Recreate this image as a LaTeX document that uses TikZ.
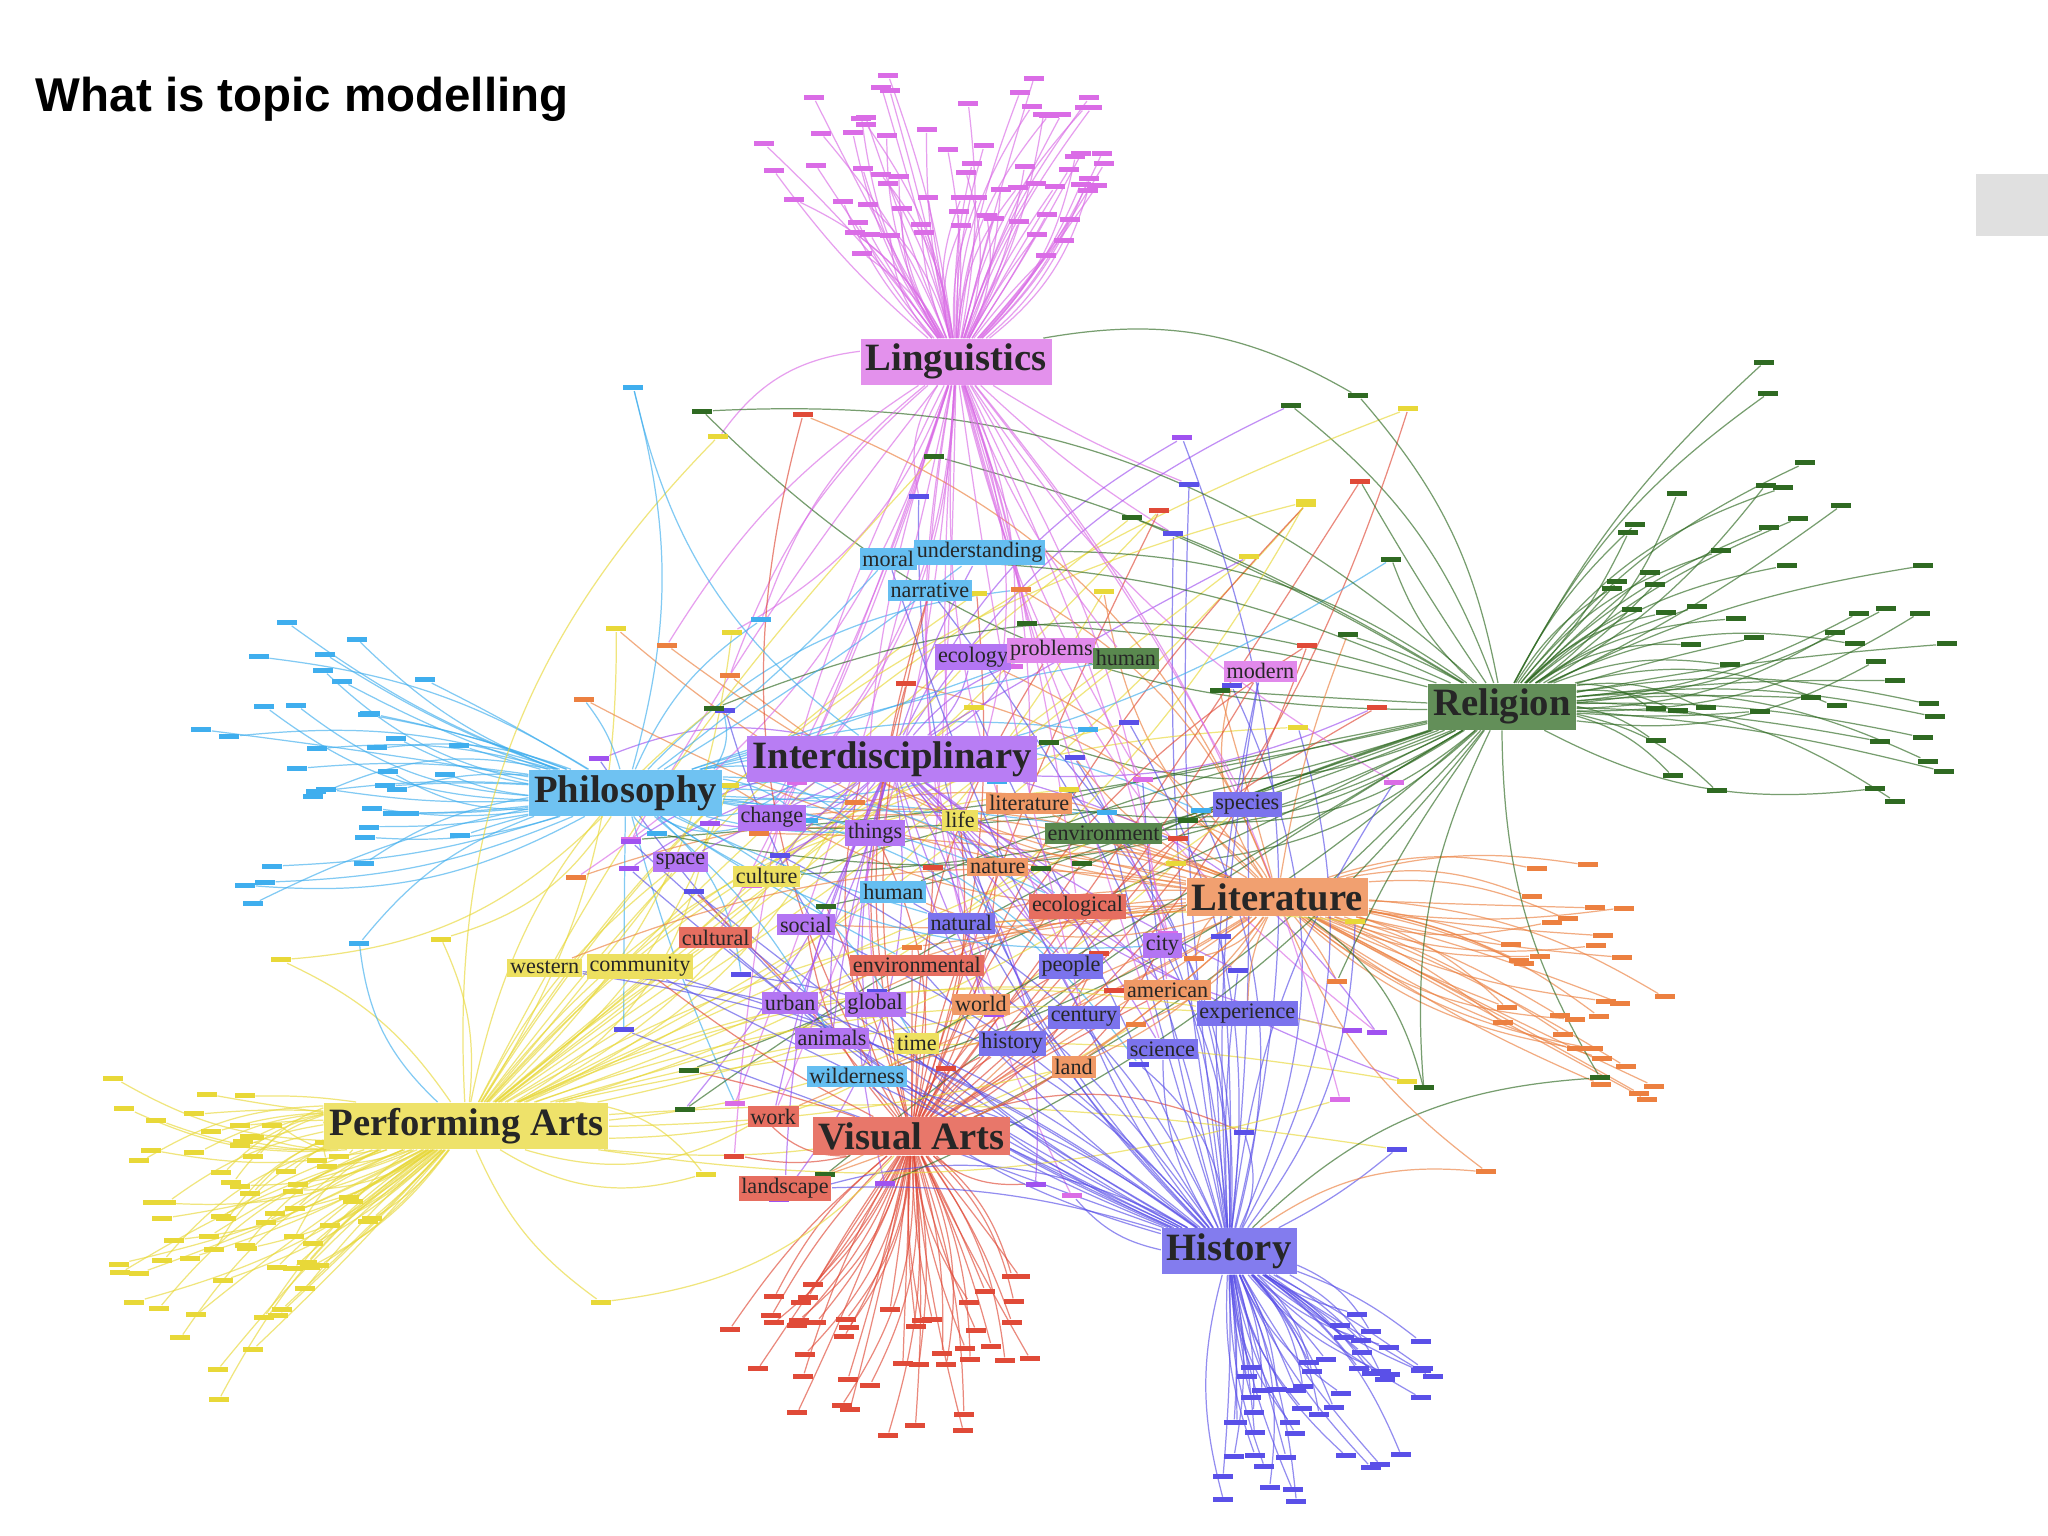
\documentclass[tikz,border=0pt]{standalone}
\usepackage{fontspec}
\setmainfont{Liberation Serif}
\newfontfamily\titlefont{Liberation Sans}
\usetikzlibrary{calc}
\definecolor{lin}{HTML}{DA6CE6}
\definecolor{rel}{HTML}{2F6A22}
\definecolor{phi}{HTML}{3FAEEE}
\definecolor{int}{HTML}{A052F0}
\definecolor{lit}{HTML}{EC8040}
\definecolor{per}{HTML}{E8D838}
\definecolor{vis}{HTML}{E04A38}
\definecolor{his}{HTML}{5A50E8}
\newcommand\myhubname[1]{\ifcase#1 lin\or rel\or phi\or int\or lit\or per\or vis\or his\fi}
\newcommand\mypick[1]{\pgfmathtruncatemacro\hi{random(0,7)}\edef#1{\myhubname{\hi}}}
\newcommand\mycluster[8]{%
 \foreach \i in {1,...,#4}{%
  \pgfmathsetmacro\aa{#5+rnd*(#6-#5)}%
  \pgfmathsetmacro\rr{#7+rnd*(#8-#7)}%
  \pgfmathsetmacro\bb{rand*18}%
  \node[leaf=#3] (#1\i) at ($(#2)+(\aa:\rr)$) {};
  \draw[edge=#3] (#2) to[bend left=\bb] (#1\i);
 }}
\newcommand\mybody{%
\pgfmathsetseed{7}%
\node[hub=lin] (lin) at (732,-277) {Linguistics};
\node[hub=rel] (rel) at (1150,-541) {Religion};
\node[hub=phi] (phi) at (479,-607) {Philosophy};
\node[hub=int] (int) at (683,-581) {Interdisciplinary};
\node[hub=lit] (lit) at (978,-687) {Literature};
\node[hub=per] (per) at (357,-862) {Performing Arts};
\node[hub=vis] (vis) at (698,-870) {Visual Arts};
\node[hub=his] (his) at (941,-958) {History};
\mycluster{L}{lin}{lin}{70}{48}{135}{100}{230}
\mycluster{R}{rel}{rel}{50}{-22}{55}{110}{350}
\mycluster{T}{lit}{lit}{32}{-32}{10}{180}{335}
\mycluster{H}{his}{his}{50}{-92}{-22}{90}{205}
\mycluster{V}{vis}{vis}{45}{-135}{-52}{130}{230}
\mycluster{P}{per}{per}{70}{172}{228}{100}{290}
\mycluster{F}{phi}{phi}{36}{150}{200}{130}{330}
\foreach \i in {1,...,110}{
 \pgfmathsetmacro\sx{440+rnd*640}
 \pgfmathsetmacro\sy{300+rnd*620}
 \mypick\h
 \mypick\g
 \node[leaf=\h] (s\i) at (\sx,-\sy) {};
 \pgfmathsetmacro\bb{rand*25}
 \draw[edge=\h] (\h) to[bend left=\bb] (s\i);
 \draw[edge=\g] (\g) to[bend right=\bb] (s\i);
}
\foreach \n/\c/\x/\y/\h in {o1/rel/1040/303/lin, o2/per/215/735/phi, o3/phi/275/722/per, o4/per/338/719/phi,
 o5/rel/1225/825/his, o6/lit/1138/897/his, o7/per/460/997/vis, o8/phi/485/297/int, o9/rel/1090/833/lit}{
 \node[leaf=\c] (\n) at (\x,-\y) {};
 \draw[edge=\c] (\h) to[bend left=20] (\n);
 \draw[edge=\c] (\c) to[bend right=15] (\n);
}
\foreach \n/\t/\c/\x/\y in {
 a/ecology/int/745/503, b/problems/lin/805/498, c/human/rel/862/504, d/modern/lin/965/514,
 e/narrative/phi/712/452, f/understanding/phi/750/423, g/moral/phi/680/428,
 h/change/int/591/626, i/things/int/670/638, j/life/per/735/628, k/environment/rel/845/638,
 l/species/his/955/616, m/literature/lit/788/615, n/nature/lit/764/664, o/culture/per/587/671,
 p/space/int/521/660, q/human/phi/684/683, r/ecological/vis/825/694, s/social/int/617/708,
 t/natural/his/736/707, u/cultural/vis/548/718, v/environmental/vis/702/739, w/people/his/820/740,
 x/american/lit/894/758, y/world/lit/751/769, z/urban/int/605/768, A/global/int/670/769,
 B/century/his/830/779, C/experience/his/955/776, D/time/per/702/799, E/history/his/775/799,
 F/science/his/890/803, G/land/lit/822/817, I/western/per/417/741, J/community/per/490/740,
 K/work/vis/592/855, M/animals/int/637/795, N/wilderness/phi/656/824, O/city/int/890/724,
 Q/landscape/vis/601/910}{
 \node[mid=\c] (m\n) at (\x,-\y) {\t};
 \foreach \j in {1,2,3}{
  \mypick\h
  \pgfmathsetmacro\bb{rand*20}
  \draw[edge=\h] (\h) to[bend left=\bb] (m\n);
 }
}
\node[hub=lin] (lin) at (732,-277) {Linguistics};
\node[hub=rel] (rel) at (1150,-541) {Religion};
\node[hub=phi] (phi) at (479,-607) {Philosophy};
\node[hub=int] (int) at (683,-581) {Interdisciplinary};
\node[hub=lit] (lit) at (978,-687) {Literature};
\node[hub=per] (per) at (357,-862) {Performing Arts};
\node[hub=vis] (vis) at (698,-870) {Visual Arts};
\node[hub=his] (his) at (941,-958) {History};
}
\begin{document}
\begin{tikzpicture}[x=0.01306cm,y=0.01306cm,
 hub/.style={fill=#1!75,text=black!85,font=\bfseries\fontsize{11}{12}\selectfont,inner sep=1.5pt,nodevis},
 mid/.style={fill=#1!80,text=black!85,font=\fontsize{6.3}{7}\selectfont,inner sep=0.8pt,nodevis},
 leaf/.style={fill=#1,minimum width=0.2cm,minimum height=0.05cm,inner sep=0pt,nodevis},
 edge/.style={draw=#1,line width=0.35pt,opacity=0.65,edgevis}]
\fill[white] (0,0) rectangle (1568,-1176);
\useasboundingbox (0,0) rectangle (1568,-1176);
\fill[black!12] (1513,-133) rectangle (1568,-181);
\node[anchor=west,font=\titlefont\bfseries\fontsize{13.5}{15}\selectfont] (title) at (18,-76) {What is topic modelling};
\begin{scope}[nodevis/.style={fill=none,text=white,text opacity=0},edgevis/.style={}]
\mybody
\end{scope}
\begin{scope}[nodevis/.style={},edgevis/.style={draw=none}]
\mybody
\end{scope}
\end{tikzpicture}
\end{document}
